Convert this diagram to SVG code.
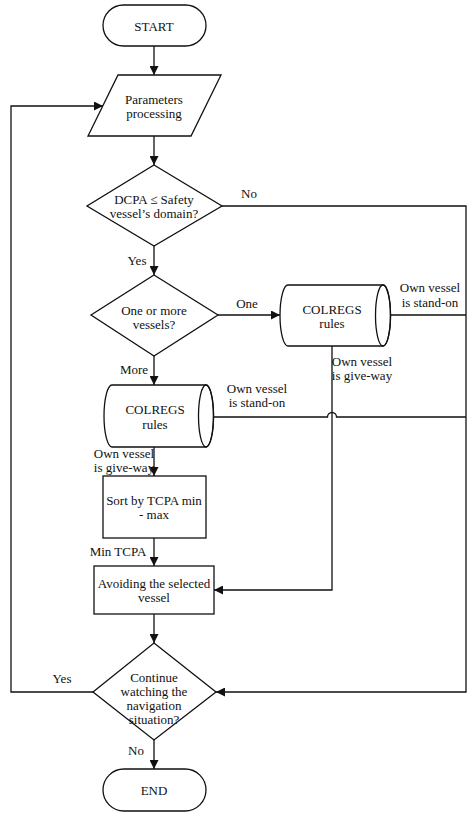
<svg xmlns="http://www.w3.org/2000/svg" width="474" height="818" viewBox="0 0 474 818">
<style>
.s{fill:#fff;stroke:#111;stroke-width:1.3}
.c{fill:none;stroke:#111;stroke-width:1.3}
text{font-family:"Liberation Serif","Times New Roman",serif;font-size:13px;fill:#111;text-anchor:middle}
</style>
<defs>
<marker id="a" viewBox="0 0 10 10" refX="10" refY="5" markerWidth="9" markerHeight="9" markerUnits="userSpaceOnUse" orient="auto">
<path d="M0,0 L10,5 L0,10 Z" fill="#111"/>
</marker>
</defs>
<rect width="474" height="818" fill="#fff"/>
<g id="connectors">
<path class="c" d="M154,46 V75" marker-end="url(#a)"/>
<path class="c" d="M154,136 V165" marker-end="url(#a)"/>
<path class="c" d="M154,246 V275" marker-end="url(#a)"/>
<path class="c" d="M218,315 H280" marker-end="url(#a)"/>
<path class="c" d="M154,356 V385" marker-end="url(#a)"/>
<path class="c" d="M154,447 V476" marker-end="url(#a)"/>
<path class="c" d="M154,538 V566" marker-end="url(#a)"/>
<path class="c" d="M154,614 V643" marker-end="url(#a)"/>
<path class="c" d="M154,740 V769" marker-end="url(#a)"/>
<path class="c" d="M222,206 H466 V692 H216" marker-end="url(#a)"/>
<path class="c" d="M383,315 H466"/>
<path class="c" d="M207,417 H327.5 A4.5,4.5 0 0 1 336.5,417 H466"/>
<path class="c" d="M332,346 V590 H214" marker-end="url(#a)"/>
<path class="c" d="M93,692 H11 V106 H103" marker-end="url(#a)"/>
<text x="249" y="198">No</text>
<text x="137" y="265">Yes</text>
<text x="247" y="308">One</text>
<text x="134" y="374">More</text>
<text x="430" y="292">Own vessel</text>
<text x="430" y="307">is stand-on</text>
<text x="362" y="366">Own vessel</text>
<text x="362" y="380">is give-way</text>
<text x="257" y="393">Own vessel</text>
<text x="257" y="407">is stand-on</text>
<text x="124" y="458">Own vessel</text>
<text x="124" y="472">is give-way</text>
<text x="118" y="556">Min TCPA</text>
<text x="62" y="683">Yes</text>
<text x="136" y="755">No</text>
</g>
<g id="start">
<rect class="s" x="103" y="5" width="103" height="41" rx="20.5"/>
<text x="154" y="30.5">START</text>
</g>
<g id="params">
<polygon class="s" points="118,75 221,75 191,136 88,136"/>
<text x="154" y="103.5">Parameters</text>
<text x="154" y="117.5">processing</text>
</g>
<g id="dcpa">
<polygon class="s" points="154,165 222,206 154,246 87,206"/>
<text x="154" y="203.5">DCPA ≤ Safety</text>
<text x="154" y="217.5">vessel’s domain?</text>
</g>
<g id="oneormore">
<polygon class="s" points="154,275 218,315 154,356 91,315"/>
<text x="154" y="314.5">One or more</text>
<text x="154" y="328.5">vessels?</text>
</g>
<g id="colregs1">
<path class="s" d="M288,285 H383 A7.5,30.5 0 0 1 383,346 H288 A8,30.5 0 0 1 288,285 Z"/>
<ellipse class="c" cx="383" cy="315.5" rx="7.5" ry="30.5"/>
<text x="332" y="313.5">COLREGS</text>
<text x="332" y="327.5">rules</text>
</g>
<g id="colregs2">
<path class="s" d="M112,385 H206 A7.5,31 0 0 1 206,447 H112 A8,31 0 0 1 112,385 Z"/>
<ellipse class="c" cx="206" cy="416" rx="7.5" ry="31"/>
<text x="155" y="413.5">COLREGS</text>
<text x="155" y="428.5">rules</text>
</g>
<g id="sort">
<rect class="s" x="103" y="476" width="103" height="62"/>
<text x="154" y="504.5">Sort by TCPA min</text>
<text x="154" y="518.5">- max</text>
</g>
<g id="avoid">
<rect class="s" x="94" y="566" width="120" height="48"/>
<text x="154" y="587.5">Avoiding the selected</text>
<text x="154" y="601.5">vessel</text>
</g>
<g id="continue">
<polygon class="s" points="154,643 216,692 154,740 93,692"/>
<text x="154" y="682">Continue</text>
<text x="154" y="696">watching the</text>
<text x="154" y="710">navigation</text>
<text x="154" y="724">situation?</text>
</g>
<g id="end">
<rect class="s" x="103" y="769" width="103" height="42" rx="21"/>
<text x="154" y="794.5">END</text>
</g>
</svg>
